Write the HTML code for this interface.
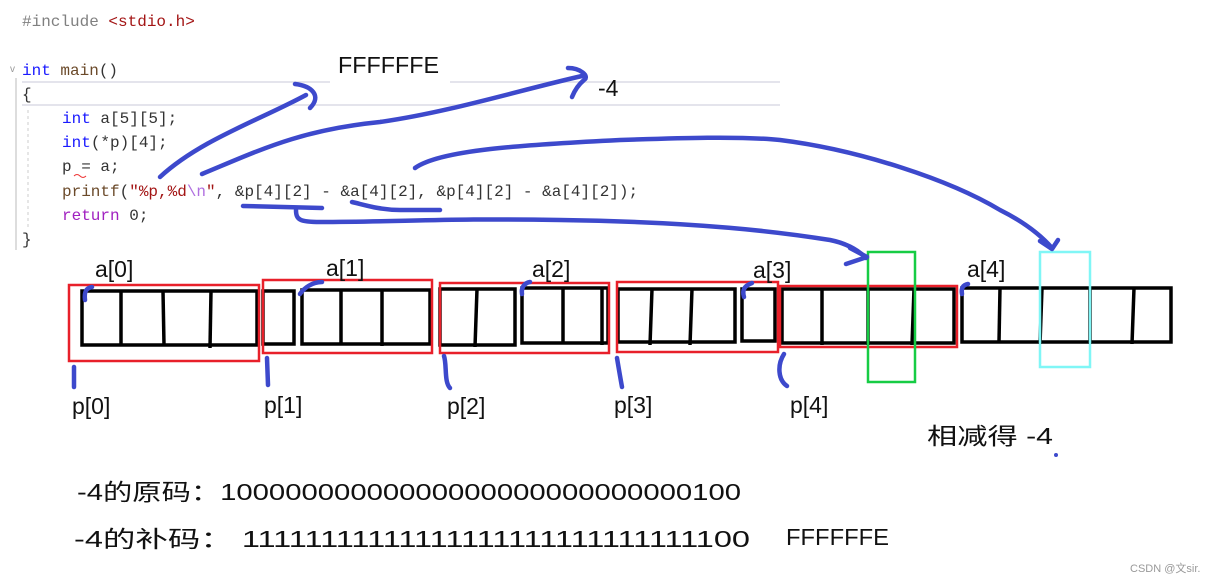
<!DOCTYPE html>
<html><head><meta charset="utf-8"><style>
html,body{margin:0;padding:0;background:#fff;}
svg{display:block}
.code{font-family:"Liberation Mono",monospace;font-size:16px;fill:#333}
.lab{font-family:"Liberation Sans","Noto Sans CJK SC",sans-serif;font-size:23px;fill:#111}
.bl{fill:none;stroke:#3d49cc;stroke-width:4.5;stroke-linecap:round;stroke-linejoin:round}
</style></head><body>
<svg width="1222" height="583" viewBox="0 0 1222 583" xmlns="http://www.w3.org/2000/svg">
<line x1="22" y1="82" x2="330" y2="82" stroke="#e4e4ec" stroke-width="2"/>
<line x1="450" y1="82" x2="780" y2="82" stroke="#e4e4ec" stroke-width="2"/>
<line x1="22" y1="105" x2="780" y2="105" stroke="#e4e4ec" stroke-width="2"/>
<line x1="16" y1="78" x2="16" y2="250" stroke="#bbb" stroke-width="1"/>
<line x1="28" y1="110" x2="28" y2="230" stroke="#ccc" stroke-width="1" stroke-dasharray="3,3"/>
<text x="10" y="72" font-size="10" fill="#999" font-family="Liberation Sans">v</text>
<text class="code" x="22" y="26"><tspan fill="#808080">#include </tspan><tspan fill="#a31515">&lt;stdio.h&gt;</tspan></text>
<text class="code" x="22" y="75"><tspan fill="#1a1aff">int</tspan> <tspan fill="#6b4a2a">main</tspan>()</text>
<text class="code" x="22" y="99">{</text>
<text class="code" x="62" y="123"><tspan fill="#1a1aff">int</tspan> a[5][5];</text>
<text class="code" x="62" y="147"><tspan fill="#1a1aff">int</tspan>(*p)[4];</text>
<text class="code" x="62" y="171">p = a;</text>
<path d="M74 176 q3 -3 6 0 q3 3 6 0" stroke="#e33" fill="none" stroke-width="1"/>
<text class="code" x="62" y="196"><tspan fill="#6b4a2a">printf</tspan>(<tspan fill="#a31515">"%p,%d</tspan><tspan fill="#b070e0">\n</tspan><tspan fill="#a31515">"</tspan>, &amp;p[4][2] - &amp;a[4][2], &amp;p[4][2] - &amp;a[4][2]);</text>
<text class="code" x="62" y="220"><tspan fill="#a020c0">return</tspan> 0;</text>
<text class="code" x="22" y="244">}</text>
<rect x="330" y="50" width="118" height="32" fill="#fff"/>
<text class="lab" x="338" y="73" font-size="26" textLength="101" lengthAdjust="spacingAndGlyphs">FFFFFFE</text>
<text class="lab" x="598" y="96" font-size="25">-4</text>
<g fill="none" stroke="#000" stroke-width="3.5">
<rect x="82" y="291" width="175" height="54"/>
<line x1="121" y1="291" x2="121" y2="345"/><line x1="163" y1="291" x2="164" y2="345"/><line x1="211" y1="291" x2="210" y2="348"/>
<rect x="263" y="291" width="31" height="53"/>
<rect x="302" y="290" width="128" height="54"/>
<line x1="341" y1="290" x2="341" y2="344"/><line x1="382" y1="290" x2="382" y2="346"/>
<rect x="440" y="289" width="75" height="56"/>
<line x1="477" y1="289" x2="475" y2="347"/>
<rect x="522" y="288" width="86" height="55"/>
<line x1="563" y1="288" x2="563" y2="343"/><line x1="602" y1="288" x2="602" y2="345"/>
<rect x="618" y="289" width="117" height="53"/>
<line x1="652" y1="289" x2="650" y2="345"/><line x1="692" y1="289" x2="690" y2="345"/>
<rect x="742" y="289" width="33" height="52"/>
<rect x="782" y="289" width="172" height="54"/>
<line x1="822" y1="289" x2="822" y2="345"/><line x1="868" y1="289" x2="868" y2="345"/><line x1="914" y1="289" x2="912" y2="345"/>
<rect x="962" y="288" width="209" height="54"/>
<line x1="1000" y1="288" x2="999" y2="342"/><line x1="1042" y1="288" x2="1040" y2="344"/><line x1="1090" y1="288" x2="1090" y2="344"/><line x1="1134" y1="288" x2="1132" y2="344"/>
</g>
<g fill="none" stroke="#e8202a" stroke-width="2.5">
<rect x="69" y="285" width="190" height="76"/>
<rect x="263" y="280" width="169" height="73"/>
<rect x="440" y="283" width="169" height="70"/>
<rect x="617" y="282" width="161" height="70"/>
<rect x="780" y="286" width="177" height="61"/>
</g>
<rect x="868" y="252" width="47" height="130" fill="none" stroke="#16cc44" stroke-width="2.5"/>
<rect x="1040" y="252" width="50" height="115" fill="none" stroke="#80f6f6" stroke-width="2.5"/>
<text class="lab" x="95" y="277">a[0]</text>
<text class="lab" x="326" y="276">a[1]</text>
<text class="lab" x="532" y="277">a[2]</text>
<text class="lab" x="753" y="278">a[3]</text>
<text class="lab" x="967" y="277">a[4]</text>
<text class="lab" x="72" y="414">p[0]</text>
<text class="lab" x="264" y="413">p[1]</text>
<text class="lab" x="447" y="414">p[2]</text>
<text class="lab" x="614" y="413">p[3]</text>
<text class="lab" x="790" y="413">p[4]</text>
<text class="lab" x="927" y="444" font-size="26" textLength="126" lengthAdjust="spacingAndGlyphs">相减得 -4</text>
<circle cx="1056" cy="455" r="2" fill="#3d49cc"/>
<text class="lab" x="77" y="500" font-size="28" textLength="664" lengthAdjust="spacingAndGlyphs">-4的原码：10000000000000000000000000000100</text>
<text class="lab" x="74" y="547" font-size="28" textLength="676" lengthAdjust="spacingAndGlyphs">-4的补码：  11111111111111111111111111111100</text>
<text class="lab" x="786" y="545" font-size="27" textLength="103" lengthAdjust="spacingAndGlyphs">FFFFFFE</text>
<text x="1130" y="572" font-family="Liberation Sans,Noto Sans CJK SC,sans-serif" font-size="11" fill="#999">CSDN @文sir.</text>
<g class="bl">
<path d="M160 177 C200 140 260 120 306 95"/>
<path d="M295 84 C312 86 322 96 310 108"/>
<path d="M202 174 C260 150 300 130 380 122 C450 112 520 90 582 76"/>
<path d="M568 68 C580 68 590 76 584 80 C578 85 574 92 572 97"/>
<path d="M415 168 C440 150 520 145 620 140 C680 138 740 136 780 140 C860 150 950 180 1000 210 C1030 225 1045 240 1052 248"/>
<path d="M1040 241 L1052 249 L1058 240"/>
<path d="M243 206 L322 208"/>
<path d="M352 202 C365 205 380 210 400 210 L440 210"/>
<path d="M296 210 C296 220 300 222 320 222 C400 222 450 218 560 220 C700 222 780 232 830 240 C850 244 860 252 866 258"/>
<path d="M850 248 L867 257 L846 264"/>
<path d="M85 300 C84 292 86 288 92 287"/>
<path d="M74 367 L74 387"/>
<path d="M267 358 L268 385"/>
<path d="M444 356 C447 365 444 382 450 388"/>
<path d="M617 358 C619 370 620 376 622 387"/>
<path d="M784 354 C777 365 778 380 787 386"/>
<path d="M300 294 C304 288 312 282 322 282"/>
<path d="M522 294 C521 288 524 283 530 282"/>
<path d="M744 297 C742 290 744 286 752 283"/>
<path d="M962 294 C961 288 963 285 968 284"/>
</g>
</svg>
</body></html>
